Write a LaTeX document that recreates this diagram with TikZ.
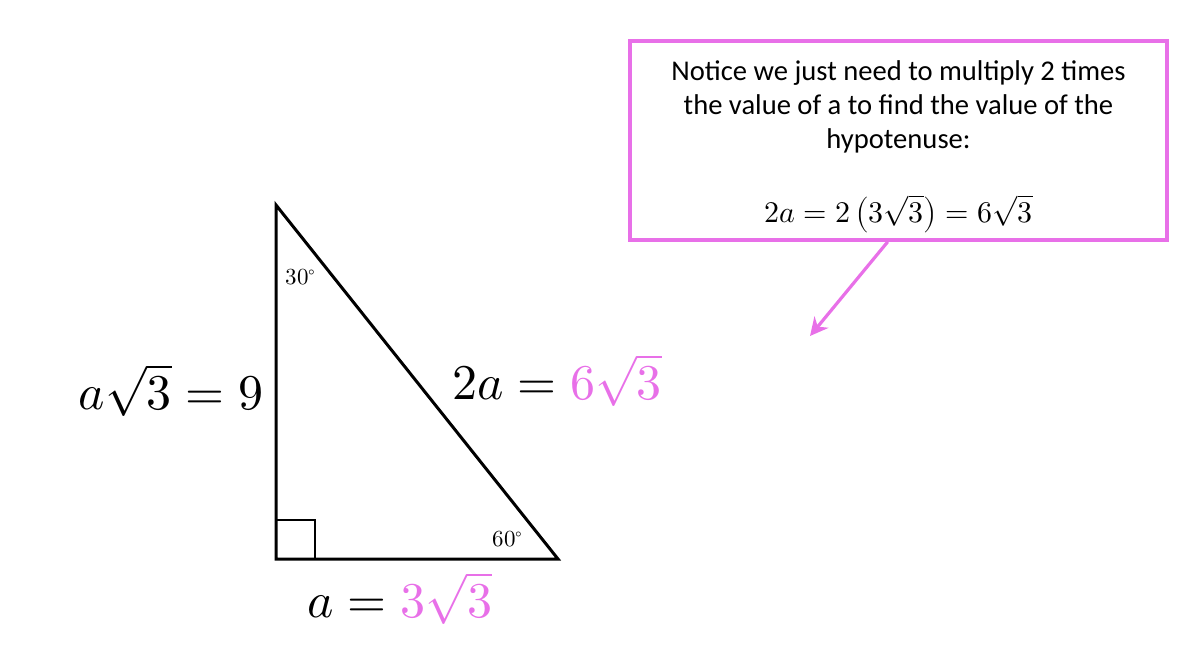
\documentclass[tikz,border=0pt]{standalone}
\usepackage{fontspec}
\usepackage{unicode-math}
\setmainfont{Carlito}
\setmathfont{Latin Modern Math}
\usetikzlibrary{arrows.meta, positioning, calc}
\definecolor{notepink}{RGB}{232,112,232}
\tikzstyle{notebox} = [rectangle, draw=notepink, line width=1.8pt, minimum width=268.5pt, minimum height=99.5pt, inner sep=0pt]
\tikzstyle{side} = [font=\fontsize{25}{30}\selectfont, inner sep=0pt]
\tikzstyle{angle} = [font=\fontsize{11.5}{13}\selectfont, inner sep=0pt]
\tikzstyle{arrow} = [line width=1.6pt, draw=notepink, -{Stealth[length=9pt, width=9pt]}]

\begin{document}
\begin{tikzpicture}[x=0.5pt, y=-0.5pt]
\useasboundingbox (0,0) rectangle (1200,655);

% Triangle
\coordinate (top) at (276,205);
\coordinate (corner) at (276,559);
\coordinate (right) at (558,559);
\draw[line width=1.5pt, line join=miter] (top) -- (corner) -- (right) -- cycle;
\draw[line width=0.75pt] (276,520) -| (315,559);

% Angles
\node[angle] (ang30) at (301,277) {$30^{\circ}$};
\node[angle] (ang60) at (508,539) {$60^{\circ}$};

% Sides
\node[side] (leg) at (171,390) {$a\sqrt{3}=9$};
\node[side] (hyp) at (557,380) {$2a=\textcolor{notepink}{6\sqrt{3}}$};
\node[side] (base) at (400,598) {$a=\textcolor{notepink}{3\sqrt{3}}$};

% Note
\node[notebox] (note) at (898.5,140.5) {};
\node[font=\fontsize{14.3}{17}\selectfont, align=center, yshift=-3pt] (notetext) at (note.center) {
Notice we just need to multiply 2 times\\
the value of a to find the value of the\\
hypotenuse:\\[20pt]
\fontsize{15}{17}\selectfont$2a=2\left(3\sqrt{3}\right)=6\sqrt{3}$
};

% Arrow
\coordinate (target) at (810,336);
\draw[arrow] ($(note.south west)!0.48!(note.south east)$) -- (target);

\end{tikzpicture}
\end{document}
